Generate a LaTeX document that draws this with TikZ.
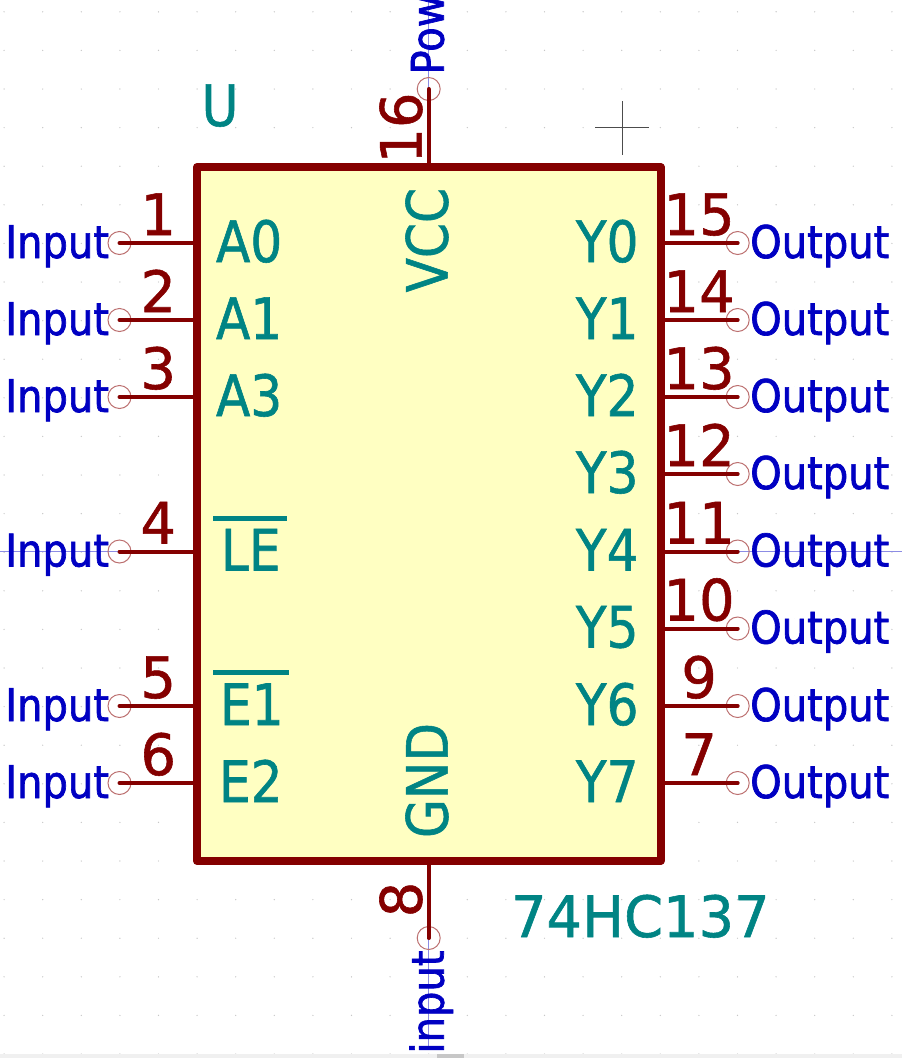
\documentclass[tikz,border=0pt]{standalone}
\usepackage{fontspec}
\usepackage{xcolor}
\usepackage{tikz}
\usetikzlibrary{positioning}
\usetikzlibrary{calc}

\newfontfamily\signalfont[FakeStretch=0.88,FakeBold=1]{DejaVu Sans}
\newfontfamily\numberfont[FakeStretch=0.98,FakeBold=1]{DejaVu Sans}
\newfontfamily\netfont[FakeStretch=0.89,FakeBold=1.5]{DejaVu Sans}

\definecolor{pinred}{HTML}{840000}
\definecolor{symteal}{HTML}{008484}
\definecolor{netblue}{HTML}{0000C2}
\definecolor{bodyfill}{HTML}{FFFFC2}
\definecolor{endring}{HTML}{BC7070}

\newcommand{\barred}[3]{\vbox{\hrule height 5pt \kern 8pt \hbox{\kern #1 #3\kern #2}}}

\tikzset{
	x=1pt, y=-1pt,
	body/.style={draw=pinred, fill=bodyfill, line width=8pt, line join=round, inner sep=0pt, outer sep=0pt, minimum width=463.5pt, minimum height=694pt},
	pinend/.style={circle, draw=endring, line width=1pt, inner sep=0pt, outer sep=0pt, minimum size=23pt},
	wire/.style={draw=pinred, line width=4pt, line cap=round},
	sig/.style={text=symteal, inner sep=0pt, outer sep=0pt, text height=38pt, text depth=0pt, font=\signalfont\fontsize{57}{60}\selectfont},
	num/.style={text=pinred, inner sep=0pt, outer sep=0pt, text height=42pt, text depth=0pt, font=\numberfont\fontsize{57}{60}\selectfont},
	net/.style={text=netblue, inner sep=0pt, outer sep=0pt, text height=30pt, text depth=0pt, font=\netfont\fontsize{45}{48}\selectfont},
	hair/.style={draw=netblue!45, line width=0.8pt},
	griddot/.style={fill=black!22}
}

\begin{document}
\begin{tikzpicture}
	\useasboundingbox (0,0) rectangle (902,1058);

	% grid and cursor
	\foreach \i in {-11,...,12}
		\foreach \j in {-2,...,25}
			\fill[griddot] ($(428.7,89)+(38.6*\i,38.6*\j)$) circle (0.7pt);
	\coordinate (hairW) at (0,551.5);
	\coordinate (hairE) at (902,551.5);
	\coordinate (hairN) at (428.7,0);
	\coordinate (hairS) at (428.7,1050);
	\draw[hair] (hairW) -- (hairE);
	\draw[hair] (hairN) -- (hairS);
	\coordinate (markW) at (595,127);
	\coordinate (markE) at (649,127);
	\coordinate (markN) at (622,101);
	\coordinate (markS) at (622,155);
	\draw[black!70, line width=0.7pt] (markW) -- (markE);
	\draw[black!70, line width=0.7pt] (markN) -- (markS);

	% window strip
	\fill[black!6] (0,1054) rectangle (902,1058);
	\fill[black!22] (437,1054) rectangle (464,1058);

	% nodes
	\node[body] (ic) at (428.75,514) {};

	\node[pinend] (p1) at (119.5,243) {};
	\node[pinend] (p2) at (119.5,320) {};
	\node[pinend] (p3) at (119.5,397) {};
	\node[pinend] (p4) at (119.5,551.5) {};
	\node[pinend] (p5) at (119.5,706) {};
	\node[pinend] (p6) at (119.5,783) {};

	\node[pinend] (p15) at (737.7,243) {};
	\node[pinend] (p14) at (737.7,320) {};
	\node[pinend] (p13) at (737.7,397) {};
	\node[pinend] (p12) at (737.7,474) {};
	\node[pinend] (p11) at (737.7,551.5) {};
	\node[pinend] (p10) at (737.7,628.5) {};
	\node[pinend] (p9) at (737.7,706) {};
	\node[pinend] (p7) at (737.7,783) {};

	\node[pinend] (p16) at (428.7,89) {};
	\node[pinend] (p8) at (428.7,938) {};

	% edges
	\draw[wire] (p1.center) -- (p1 -| ic.west) coordinate (e1) node[num, midway, above=8pt] (k1) {1};
	\draw[wire] (p2.center) -- (p2 -| ic.west) coordinate (e2) node[num, midway, above=8pt] (k2) {2};
	\draw[wire] (p3.center) -- (p3 -| ic.west) coordinate (e3) node[num, midway, above=8pt] (k3) {3};
	\draw[wire] (p4.center) -- (p4 -| ic.west) coordinate (e4) node[num, midway, above=8pt] (k4) {4};
	\draw[wire] (p5.center) -- (p5 -| ic.west) coordinate (e5) node[num, midway, above=8pt] (k5) {5};
	\draw[wire] (p6.center) -- (p6 -| ic.west) coordinate (e6) node[num, midway, above=8pt] (k6) {6};

	\draw[wire] (p15.center) -- (p15 -| ic.east) coordinate (e15) node[num, midway, above=8pt] (k15) {15};
	\draw[wire] (p14.center) -- (p14 -| ic.east) coordinate (e14) node[num, midway, above=8pt] (k14) {14};
	\draw[wire] (p13.center) -- (p13 -| ic.east) coordinate (e13) node[num, midway, above=8pt] (k13) {13};
	\draw[wire] (p12.center) -- (p12 -| ic.east) coordinate (e12) node[num, midway, above=8pt] (k12) {12};
	\draw[wire] (p11.center) -- (p11 -| ic.east) coordinate (e11) node[num, midway, above=8pt] (k11) {11};
	\draw[wire] (p10.center) -- (p10 -| ic.east) coordinate (e10) node[num, midway, above=8pt] (k10) {10};
	\draw[wire] (p9.center) -- (p9 -| ic.east) coordinate (e9) node[num, midway, above=8pt] (k9) {9};
	\draw[wire] (p7.center) -- (p7 -| ic.east) coordinate (e7) node[num, midway, above=8pt] (k7) {7};

	\draw[wire] (p16.center) -- (p16 |- ic.north) coordinate (e16)
		node[num, midway, rotate=90, anchor=south, yshift=7pt] (k16) {16};
	\draw[wire] (p8.center) -- (p8 |- ic.south) coordinate (e8)
		node[num, midway, rotate=90, anchor=south, yshift=7pt] (k8) {8};

	% net names
	\node[net, left=-1pt of p1] (n1) {Input};
	\node[net, left=-1pt of p2] (n2) {Input};
	\node[net, left=-1pt of p3] (n3) {Input};
	\node[net, left=-1pt of p4] (n4) {Input};
	\node[net, left=-1pt of p5] (n5) {Input};
	\node[net, left=-1pt of p6] (n6) {Input};

	\node[net, right=1pt of p15] (n15) {Output};
	\node[net, right=1pt of p14] (n14) {Output};
	\node[net, right=1pt of p13] (n13) {Output};
	\node[net, right=1pt of p12] (n12) {Output};
	\node[net, right=1pt of p11] (n11) {Output};
	\node[net, right=1pt of p10] (n10) {Output};
	\node[net, right=1pt of p9] (n9) {Output};
	\node[net, right=1pt of p7] (n7) {Output};

	\node[net, rotate=90, above=3pt of p16, anchor=west] (n16) {Pow};
	\node[net, rotate=90, below=1pt of p8, anchor=east] (n8) {input};

	% signal names
	\node[sig, right=19pt of e1] (a0) {A0};
	\node[sig, right=19pt of e2] (a1) {A1};
	\node[sig, right=19pt of e3] (a3) {A3};
	\node[sig, right=16pt of e4] (le) {\barred{8pt}{6pt}{LE}};
	\node[sig, right=16pt of e5] (e1n) {\barred{7pt}{5pt}{E1}};
	\node[sig, right=22pt of e6] (e2n) {E2};

	\node[sig, left=22pt of e15] (y0) {Y0};
	\node[sig, left=22pt of e14] (y1) {Y1};
	\node[sig, left=22pt of e13] (y2) {Y2};
	\node[sig, left=22pt of e12] (y3) {Y3};
	\node[sig, left=22pt of e11] (y4) {Y4};
	\node[sig, left=22pt of e10] (y5) {Y5};
	\node[sig, left=22pt of e9] (y6) {Y6};
	\node[sig, left=22pt of e7] (y7) {Y7};

	\node[sig, rotate=90, below=21pt of e16, anchor=east] (vcc) {VCC};
	\node[sig, rotate=90, above=23pt of e8, anchor=west] (gnd) {GND};

	% reference and value
	\node[sig] (refU) at (220,107) {U};
	\node[sig, anchor=west, font=\numberfont\fontsize{57}{60}\selectfont] (val) at (511,918) {74HC137};
\end{tikzpicture}
\end{document}
